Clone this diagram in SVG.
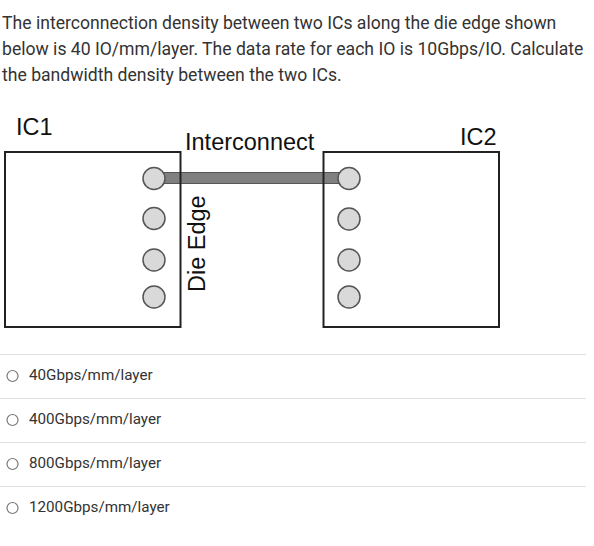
<svg xmlns="http://www.w3.org/2000/svg" width="594" height="546" viewBox="0 0 594 546">
<style>
.q{font-family:Roboto,"Liberation Sans",sans-serif;font-size:17.6px;fill:#333}
.opt{font-family:Roboto,"Liberation Sans",sans-serif;font-size:15.2px;fill:#333}
.lbl{font-family:"Liberation Sans",Arial,sans-serif;font-size:23.5px;fill:#111}
.die{fill:none;stroke:#222;stroke-width:2}
.pad{fill:#d9d9d9;stroke:#555;stroke-width:1.5}
.sep{stroke:#e0e0e0;stroke-width:1}
.radio{fill:none;stroke:#777;stroke-width:1.2}
</style>
<rect width="594" height="546" fill="#fff"/>
<g id="question">
<text class="q" x="2" y="29">The interconnection density between two ICs along the die edge shown</text>
<text class="q" x="2" y="55">below is 40 IO/mm/layer. The data rate for each IO is 10Gbps/IO. Calculate</text>
<text class="q" x="2" y="80.5">the bandwidth density between the two ICs.</text>
</g>
<g id="connectors">
<rect x="154" y="172.5" width="195" height="11" fill="#808080" stroke="#555" stroke-width="1"/>
</g>
<g id="IC1">
<rect class="die" x="5" y="152" width="175.5" height="175"/>
<circle class="pad" cx="154" cy="178.5" r="11"/>
<circle class="pad" cx="154" cy="218.5" r="11"/>
<circle class="pad" cx="154" cy="260" r="11"/>
<circle class="pad" cx="154" cy="297" r="11"/>
<text class="lbl" x="16" y="135">IC1</text>
</g>
<g id="IC2">
<rect class="die" x="323.5" y="152" width="175.5" height="175"/>
<circle class="pad" cx="349" cy="178.5" r="11"/>
<circle class="pad" cx="349" cy="219" r="11"/>
<circle class="pad" cx="349" cy="260" r="11"/>
<circle class="pad" cx="349" cy="297" r="11"/>
<text class="lbl" x="460" y="145">IC2</text>
</g>
<g id="labels">
<text class="lbl" x="185" y="150">Interconnect</text>
<text class="lbl" transform="translate(205,292) rotate(-90)">Die Edge</text>
</g>
<g id="options">
<line class="sep" x1="0" y1="354.5" x2="586" y2="354.5"/>
<line class="sep" x1="0" y1="398.5" x2="586" y2="398.5"/>
<line class="sep" x1="0" y1="442.5" x2="586" y2="442.5"/>
<line class="sep" x1="0" y1="486.5" x2="586" y2="486.5"/>
<circle class="radio" cx="12.5" cy="376" r="5.5"/>
<circle class="radio" cx="12.5" cy="420" r="5.5"/>
<circle class="radio" cx="12.5" cy="464" r="5.5"/>
<circle class="radio" cx="12.5" cy="508" r="5.5"/>
<text class="opt" x="29" y="379.5">40Gbps/mm/layer</text>
<text class="opt" x="29" y="423.5">400Gbps/mm/layer</text>
<text class="opt" x="29" y="467.5">800Gbps/mm/layer</text>
<text class="opt" x="29" y="511.5">1200Gbps/mm/layer</text>
</g>
</svg>
